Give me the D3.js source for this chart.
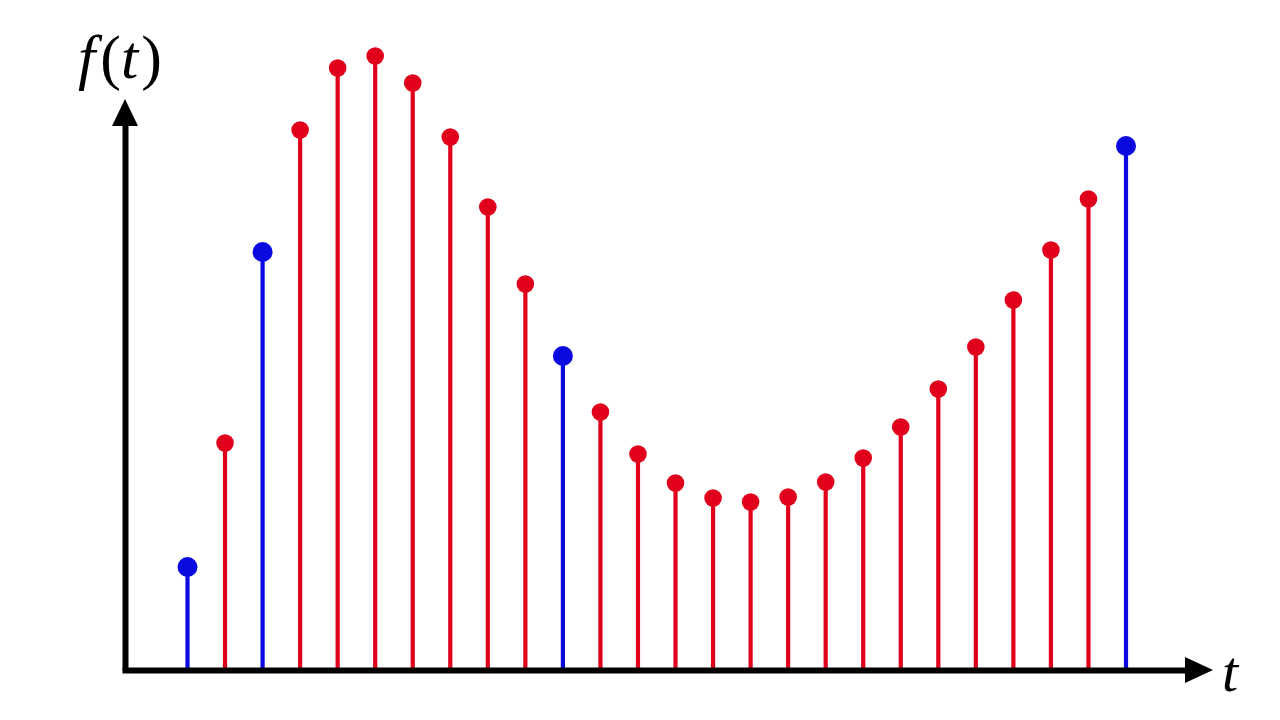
<!DOCTYPE html>
<html>
<head>
<meta charset="utf-8">
<script src="https://cdn.jsdelivr.net/npm/d3@7"></script>
<style>
html,body{margin:0;padding:0;background:#fff;}
svg{display:block;}
</style>
</head>
<body>
<svg id="chart" width="1280" height="720"></svg>
<script>
// Sample index t and sampled values f(t)
const samples = d3.range(26);
const values = [1.01, 2.25, 4.16, 5.38, 6.00, 6.12, 5.85, 5.31, 4.61, 3.84, 3.12, 2.56, 2.14, 1.85, 1.70, 1.66, 1.71, 1.86, 2.10, 2.41, 2.79, 3.21, 3.68, 4.18, 4.69, 5.22];
const highlighted = [0, 2, 10, 25];
const yLabel = "f(t)";
const xLabel = "t";

const svg = d3.select("#chart");
const RED = "#e0001c", BLUE = "#0a0ae0";

const x = d3.scaleLinear().domain([0, 25]).range([187.5, 1126]);
const y = d3.scaleLinear().domain([0, 6]).range([668, 68]);

const data = samples.map((t, i) => ({t, v: values[i], hi: highlighted.includes(t)}));

// stems
svg.append("g").selectAll("line").data(data).join("line")
  .attr("x1", d => x(d.t)).attr("x2", d => x(d.t))
  .attr("y1", y(0)).attr("y2", d => y(d.v))
  .attr("stroke", d => d.hi ? BLUE : RED)
  .attr("stroke-width", 4.2);

// dots
svg.append("g").selectAll("circle").data(data).join("circle")
  .attr("cx", d => x(d.t)).attr("cy", d => y(d.v))
  .attr("r", d => d.hi ? 10 : 8.8)
  .attr("fill", d => d.hi ? BLUE : RED);

// axes (drawn through d3 axes, no ticks)
const xAxisScale = d3.scaleLinear().domain([0, 1]).range([122, 1188]);
const yAxisScale = d3.scaleLinear().domain([0, 1]).range([670, 123]);
const gx = svg.append("g").attr("transform", "translate(0,670)")
  .call(d3.axisBottom(xAxisScale).ticks(0).tickSizeOuter(0));
gx.select(".domain").attr("stroke", "#000").attr("stroke-width", 6);
const gy = svg.append("g").attr("transform", "translate(125,0)")
  .call(d3.axisLeft(yAxisScale).ticks(0).tickSizeOuter(0));
gy.select(".domain").attr("stroke", "#000").attr("stroke-width", 6);

// arrow heads
svg.append("path").attr("d", "M1213,670 L1185,657 L1185,683 Z").attr("fill", "#000");
svg.append("path").attr("d", "M125,99 L112,126 L138,126 Z").attr("fill", "#000");

// labels
svg.append("text").attr("x", 78).attr("y", 78)
  .attr("font-family", "'Liberation Serif','DejaVu Serif',serif")
  .attr("font-style", "italic").attr("font-size", 62)
  .html("<tspan>f</tspan><tspan font-style='normal' dx='5'>(</tspan><tspan>t</tspan><tspan font-style='normal' dx='3'>)</tspan>");
svg.append("text").attr("x", 1222).attr("y", 691)
  .attr("font-family", "'Liberation Serif','DejaVu Serif',serif")
  .attr("font-style", "italic").attr("font-size", 58)
  .text(xLabel);
</script>
</body>
</html>
